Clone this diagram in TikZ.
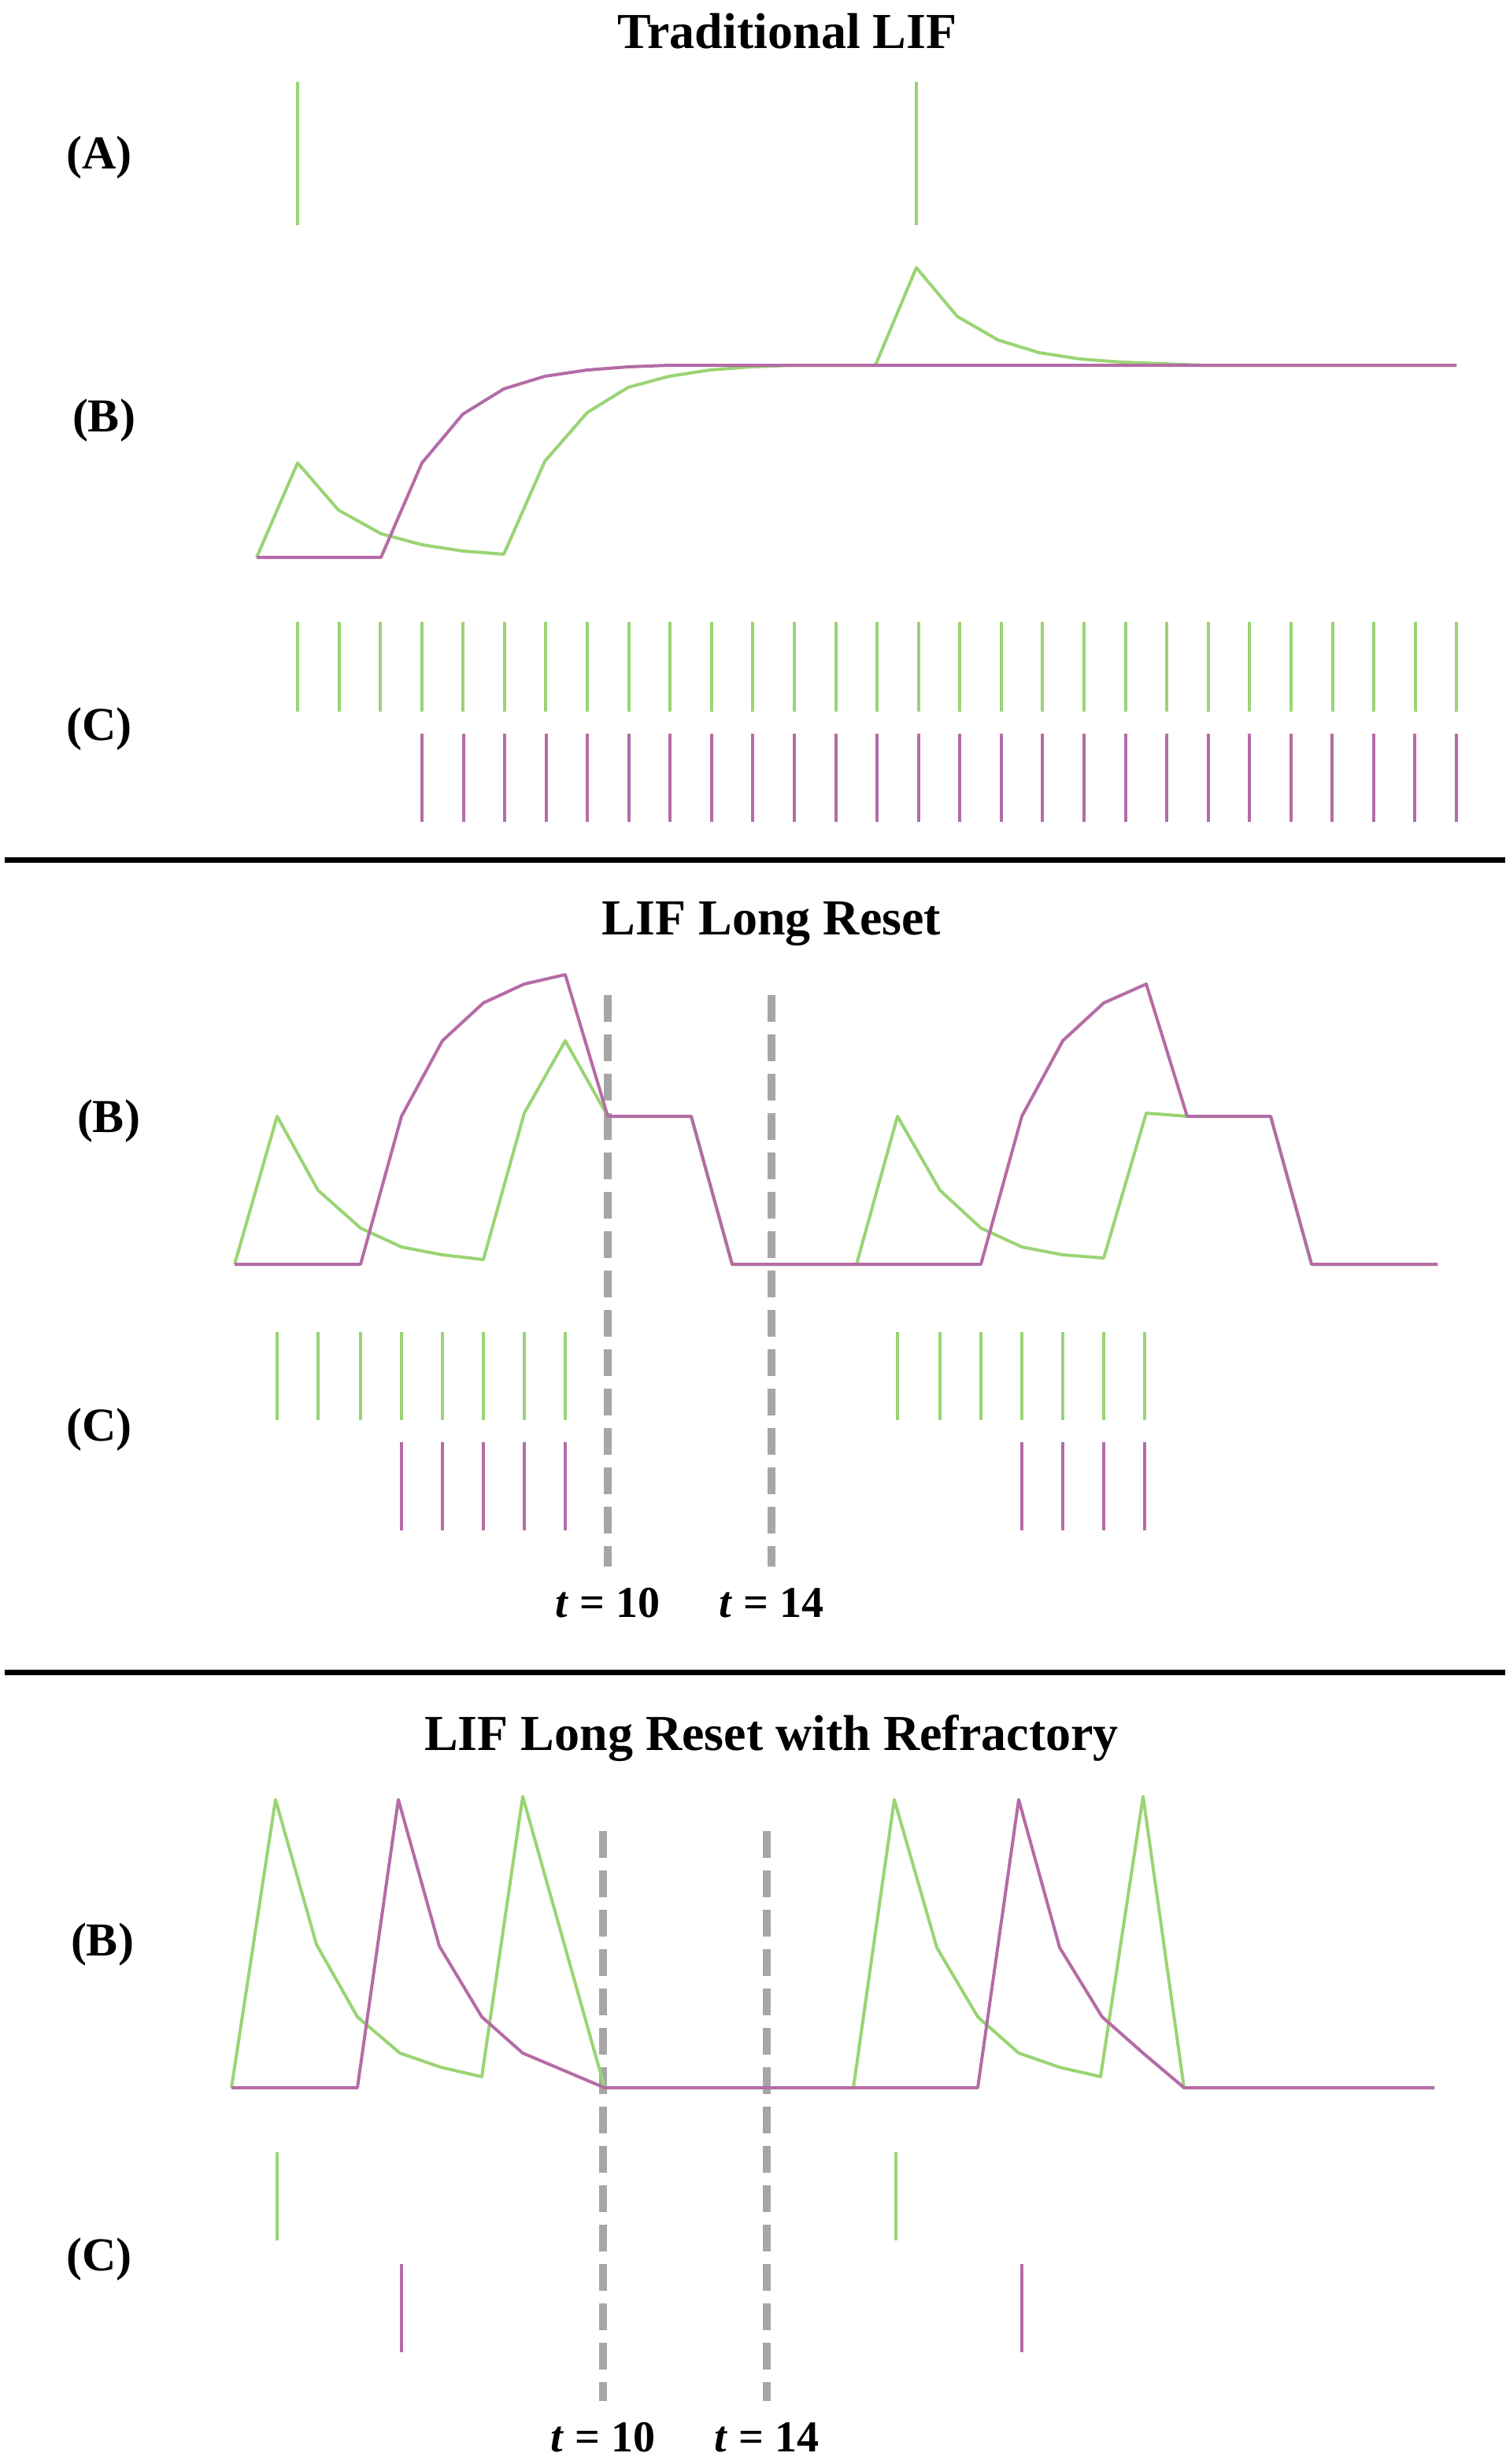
\documentclass[tikz,border=0pt]{standalone}
\usepackage{fontspec}
\setmainfont{Liberation Serif}
\begin{document}
\begin{tikzpicture}[x=1pt,y=-1pt,
  gline/.style={draw=lifgreen,line width=2pt,line join=round},
  pline/.style={draw=lifpurple,line width=2pt,line join=round},
  gspk/.style={draw=lifgreen,line width=2pt},
  pspk/.style={draw=lifpurple,line width=2pt},
  sep/.style={draw=black,line width=3.5pt},
  tmark/.style={draw=lifgray,line width=5pt,dash pattern=on 17pt off 8pt},
  ttl/.style={font=\bfseries\fontsize{32}{36}\selectfont},
  lbl/.style={font=\bfseries\fontsize{30}{34}\selectfont},
  tlb/.style={font=\bfseries\fontsize{28}{32}\selectfont}]
\definecolor{lifgreen}{HTML}{9AD474}
\definecolor{lifpurple}{HTML}{B46CA6}
\definecolor{lifgray}{HTML}{A6A6A6}
\useasboundingbox (0,0) rectangle (956,1565);
% ---- Section 1
\node[ttl] (t1) at (500,20) {Traditional LIF};
\node[lbl] (la) at (63,100) {(A)};
\node[lbl] (lb1) at (66,267) {(B)};
\node[lbl] (lc1) at (63,463) {(C)};
\draw[gspk] (189,52) -- (189,143);
\draw[gspk] (582,52) -- (582,143);
\draw[gline] (163,354) -- (189,294) -- (215,324) -- (242,339) -- (268,346) -- (294,350) -- (320,352) -- (346,293) -- (373,262) -- (399,246) -- (425,239) -- (451,235) -- (477,233) -- (503,232) -- (556,232) -- (582,170) -- (608,201) -- (634,216) -- (660,224) -- (686,228) -- (712,230) -- (738,231) -- (764,232) -- (925,232);
\draw[pline] (163,354) -- (242,354) -- (268,294) -- (294,263) -- (320,247) -- (346,239) -- (373,235) -- (399,233) -- (425,232) -- (925,232);
\foreach \i in {0,...,28} \draw[gspk] ({189+\i*26.29},395) -- ({189+\i*26.29},452);
\foreach \i in {0,...,25} \draw[pspk] ({268+\i*26.28},466) -- ({268+\i*26.28},522);
\draw[sep] (3,546) -- (956,546);
% ---- Section 2
\node[ttl] (t2) at (490,587) {LIF Long Reset};
\node[lbl] (lb2) at (69,712) {(B)};
\node[lbl] (lc2) at (63,908) {(C)};
\draw[tmark] (386,632) -- (386,995);
\draw[tmark] (490,632) -- (490,995);
\draw[gline] (149,803) -- (176,709) -- (202,756) -- (229,780) -- (255,792) -- (281,797) -- (307,800) -- (333,707) -- (359,661) -- (386,709) -- (439,709) -- (465,803) -- (544,803) -- (570,709) -- (597,756) -- (623,780) -- (649,792) -- (675,797) -- (701,799) -- (728,707) -- (754,709) -- (807,709) -- (833,803) -- (913,803);
\draw[pline] (149,803) -- (229,803) -- (255,709) -- (281,661) -- (307,637) -- (333,625) -- (359,619) -- (386,709) -- (439,709) -- (465,803) -- (623,803) -- (649,709) -- (675,661) -- (701,637) -- (728,625) -- (754,709) -- (807,709) -- (833,803) -- (913,803);
\foreach \x in {176,202,229,255,281,307,333,359,570,597,623,649,675,701,727} \draw[gspk] (\x,846) -- (\x,902);
\foreach \x in {255,281,307,333,359,649,675,701,727} \draw[pspk] (\x,916) -- (\x,972);
\node[tlb] (ta2) at (386,1018) {\textit{t} = 10};
\node[tlb] (tb2) at (490,1018) {\textit{t} = 14};
\draw[sep] (3,1062) -- (956,1062);
% ---- Section 3
\node[ttl] (t3) at (490,1104) {LIF Long Reset with Refractory};
\node[lbl] (lb3) at (65,1235) {(B)};
\node[lbl] (lc3) at (63,1435) {(C)};
\draw[tmark] (383,1163) -- (383,1525);
\draw[tmark] (487,1163) -- (487,1525);
\draw[gline] (147,1326) -- (175,1143) -- (201,1235) -- (227,1281) -- (254,1304) -- (280,1313) -- (306,1319) -- (332,1141) -- (384,1326) -- (542,1326) -- (568,1143) -- (595,1237) -- (621,1281) -- (647,1304) -- (673,1313) -- (699,1319) -- (726,1141) -- (752,1326) -- (911,1326);
\draw[pline] (147,1326) -- (227,1326) -- (253,1143) -- (279,1236) -- (306,1281) -- (332,1304) -- (358,1315) -- (384,1326) -- (621,1326) -- (647,1143) -- (673,1237) -- (700,1281) -- (726,1304) -- (752,1326) -- (911,1326);
\foreach \x in {176,569} \draw[gspk] (\x,1367) -- (\x,1423);
\foreach \x in {255,649} \draw[pspk] (\x,1438) -- (\x,1494);
\node[tlb] (ta3) at (383,1548) {\textit{t} = 10};
\node[tlb] (tb3) at (487,1548) {\textit{t} = 14};
\end{tikzpicture}
\end{document}
